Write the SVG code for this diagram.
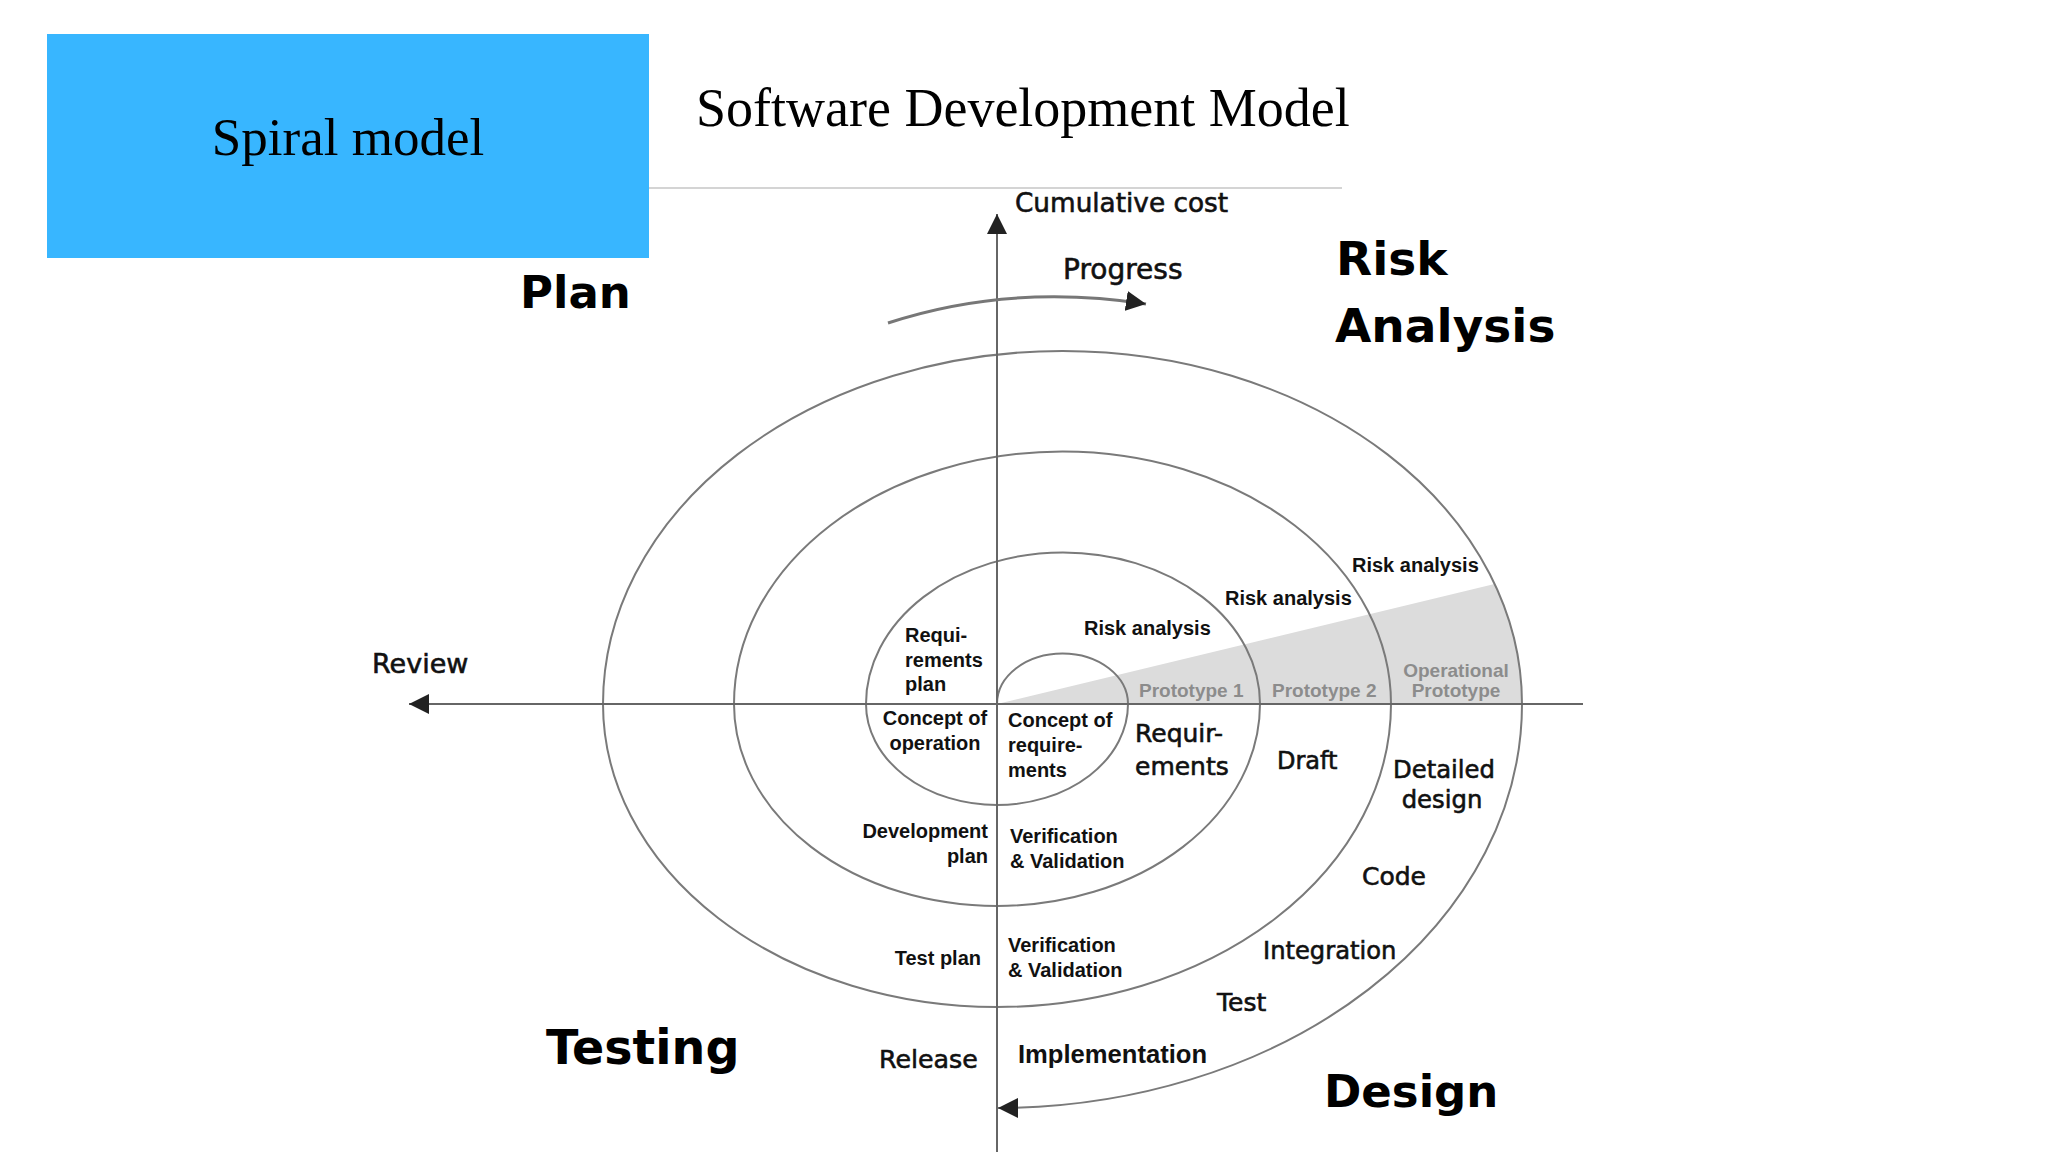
<svg xmlns="http://www.w3.org/2000/svg" width="2048" height="1152" viewBox="0 0 2048 1152">
  <style>
    .serif { font-family: "Liberation Serif", "Times New Roman", serif; fill: #000; }
    .lbl { font-family: "DejaVu Sans", Verdana, sans-serif; fill: #111; stroke: #111; stroke-width: 0.6; }
    .big { font-family: "DejaVu Sans", Verdana, sans-serif; font-weight: bold; fill: #000; }
    .sm { font-family: "Liberation Sans", Arial, sans-serif; font-weight: bold; font-size: 20px; fill: #111; }
    .impl { font-family: "Liberation Sans", Arial, sans-serif; font-weight: bold; font-size: 25.6px; fill: #111; }
    .proto { font-family: "Liberation Sans", Arial, sans-serif; font-weight: bold; font-size: 19px; fill: #8c8c8c; }
    .axis { fill: none; stroke: #666; stroke-width: 2; }
    .spiral { fill: none; stroke: #7a7a7a; stroke-width: 2; }
    .prog { fill: none; stroke: #777; stroke-width: 3; }
  </style>
  <defs>
    <marker id="arrow" markerUnits="userSpaceOnUse" markerWidth="20" markerHeight="20" viewBox="0 0 20 20" refX="20" refY="10" orient="auto">
      <path d="M0,0 L20,10 L0,20 Z" fill="#222"/>
    </marker>
  </defs>
  <rect width="2048" height="1152" fill="#fff"/>

  <g id="header">
    <rect x="47" y="34" width="602" height="224" fill="#38b6ff"/>
    <text class="serif" x="348" y="155" font-size="53" text-anchor="middle">Spiral model</text>
    <text class="serif" x="696" y="126" font-size="54">Software Development Model</text>
    <line x1="649" y1="188" x2="1342" y2="188" stroke="#d4d4d4" stroke-width="2"/>
  </g>

  <g id="prototype-wedge">
    <path d="M997,704 L1494.5,584 A459.5,353 0 0 1 1522,704 Z" fill="#dcdcdc"/>
  </g>

  <g id="connectors">
    <path id="spiral" class="spiral" d="M997,704 A65.5,50.5 0 0 1 1128,704 A131,101 0 0 1 866,704 A197,151.5 0 0 1 1260,704 A263,202 0 0 1 734,704 A328.5,252.5 0 0 1 1391,704 A394,303 0 0 1 603,704 A459.5,353 0 0 1 1522,704 A525,404 0 0 1 998,1108" marker-end="url(#arrow)"/>
    <path id="cost-axis" class="axis" d="M997,1152 L997,214" marker-end="url(#arrow)"/>
    <path id="review-axis" class="axis" d="M1583,704 L409,704" marker-end="url(#arrow)"/>
    <path id="progress-arrow" class="prog" d="M888,323 Q1010,283 1146,304" marker-end="url(#arrow)"/>
  </g>

  <g id="quadrant-titles">
    <text class="big" x="520" y="308" font-size="45">Plan</text>
    <text class="big" x="1336" y="275" font-size="47">Risk</text>
    <text class="big" x="1335" y="342" font-size="47">Analysis</text>
    <text class="big" x="546" y="1064" font-size="47.5">Testing</text>
    <text class="big" x="1324" y="1107" font-size="45">Design</text>
  </g>

  <g id="axis-labels">
    <text class="lbl" x="1015" y="212" font-size="26.3">Cumulative cost</text>
    <text class="lbl" x="1063" y="279" font-size="28">Progress</text>
    <text class="lbl" x="372" y="673" font-size="27">Review</text>
  </g>

  <g id="plan-labels">
    <text class="sm" x="905" y="642">Requi-</text>
    <text class="sm" x="905" y="667">rements</text>
    <text class="sm" x="905" y="691">plan</text>
    <text class="sm" x="935" y="725" text-anchor="middle">Concept of</text>
    <text class="sm" x="935" y="750" text-anchor="middle">operation</text>
    <text class="sm" x="988" y="838" text-anchor="end">Development</text>
    <text class="sm" x="988" y="863" text-anchor="end">plan</text>
    <text class="sm" x="981" y="965" text-anchor="end">Test plan</text>
    <text class="lbl" x="879" y="1068" font-size="25.3">Release</text>
  </g>

  <g id="risk-labels">
    <text class="sm" x="1084" y="635">Risk analysis</text>
    <text class="sm" x="1225" y="605">Risk analysis</text>
    <text class="sm" x="1352" y="572">Risk analysis</text>
    <text class="proto" x="1139" y="697">Prototype 1</text>
    <text class="proto" x="1272" y="697">Prototype 2</text>
    <text class="proto" x="1456" y="677" text-anchor="middle">Operational</text>
    <text class="proto" x="1456" y="697" text-anchor="middle">Prototype</text>
  </g>

  <g id="design-labels">
    <text class="sm" x="1008" y="727">Concept of</text>
    <text class="sm" x="1008" y="752">require-</text>
    <text class="sm" x="1008" y="777">ments</text>
    <text class="lbl" x="1135" y="742" font-size="25">Requir-</text>
    <text class="lbl" x="1135" y="775" font-size="25">ements</text>
    <text class="lbl" x="1277" y="769" font-size="24">Draft</text>
    <text class="lbl" x="1444" y="778" font-size="24.3" text-anchor="middle">Detailed</text>
    <text class="lbl" x="1442" y="808" font-size="24.3" text-anchor="middle">design</text>
    <text class="lbl" x="1362" y="885" font-size="25">Code</text>
    <text class="lbl" x="1263" y="959" font-size="24.2">Integration</text>
    <text class="lbl" x="1217" y="1011" font-size="25">Test</text>
  </g>

  <g id="testing-labels">
    <text class="sm" x="1010" y="843">Verification</text>
    <text class="sm" x="1010" y="868">&amp; Validation</text>
    <text class="sm" x="1008" y="952">Verification</text>
    <text class="sm" x="1008" y="977">&amp; Validation</text>
    <text class="impl" x="1018" y="1063">Implementation</text>
  </g>
</svg>
